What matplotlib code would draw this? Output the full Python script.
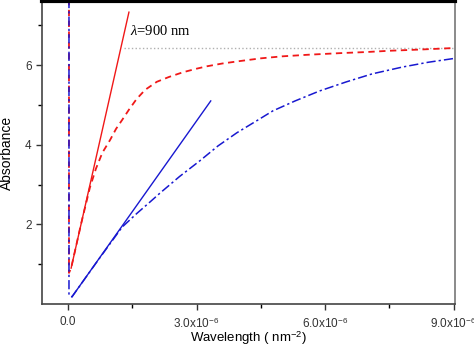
import matplotlib
matplotlib.use("Agg")
import matplotlib.pyplot as plt

# x values in units of 1e-6 nm^-2
red_fit_x = [0.07, 1.42]
red_fit_y = [0.9, 7.33]
red_data_x = [0.02, 0.02, 0.07, 0.3, 0.51, 0.65, 0.8, 0.98, 1.12, 1.26, 1.42, 1.6, 1.8,
              2.07, 2.35, 2.68, 3.0, 3.24, 3.6, 4.0, 4.5, 5.0, 5.6, 6.34, 7.0, 7.5, 8.2, 9.03]
red_data_y = [7.7, 0.78, 0.9, 2.0, 2.93, 3.4, 3.8, 4.12, 4.4, 4.62, 4.88, 5.15, 5.38,
              5.58, 5.7, 5.82, 5.91, 5.97, 6.04, 6.1, 6.17, 6.22, 6.26, 6.3, 6.33, 6.36, 6.39, 6.43]

blue_fit_x = [0.09, 3.33]
blue_fit_y = [0.18, 5.1]
blue_data_x = [0.02, 0.02, 0.09, 0.7, 1.26, 1.6, 1.91, 2.14, 2.6, 3.08, 3.5, 3.94, 4.4, 4.78,
               5.3, 5.87, 6.5, 7.1, 7.8, 8.4, 9.03]
blue_data_y = [7.7, 0.22, 0.18, 1.1, 1.93, 2.27, 2.56, 2.78, 3.2, 3.6, 3.97, 4.3, 4.6, 4.85,
               5.1, 5.35, 5.58, 5.78, 5.95, 6.07, 6.17]

sat_level = 6.43
sat_x = [1.3, 9.1]

xticks = [0, 3, 6, 9]
xticklabels = ['0.0', '3.0x10$^{-6}$', '6.0x10$^{-6}$', '9.0x10$^{-6}$']
yticks = [2, 4, 6]

plt.rcParams['font.family'] = ['Liberation Sans', 'DejaVu Sans']
plt.rcParams['mathtext.fontset'] = 'custom'
plt.rcParams['mathtext.rm'] = 'Liberation Sans'
plt.rcParams['mathtext.it'] = 'Liberation Serif:italic'

fig = plt.figure(figsize=(4.74, 3.51), dpi=100)
ax = fig.add_axes([0.0886, 0.134, 0.871, 0.862])

red = '#f01818'
blue = '#1818d0'
ax.plot(sat_x, [sat_level, sat_level], color='#b0b0b0', lw=1, ls=':')
ax.plot(red_fit_x, red_fit_y, color=red, lw=1)
ax.plot(red_data_x, red_data_y, color=red, lw=1.3, ls=(0, (3.5, 2.5)))
ax.plot(blue_fit_x, blue_fit_y, color=blue, lw=1)
ax.plot(blue_data_x, blue_data_y, color=blue, lw=1.1, ls=(0, (6, 2, 1.5, 2)))

ax.text(1.45, 6.75, r'$\mathit{\lambda}$=900 nm', family='Liberation Serif', fontsize=10.5)

ax.set_xlim(-0.61, 9.03)
ax.set_ylim(0, 7.6)
ax.set_xticks(xticks)
ax.set_xticklabels(xticklabels, fontsize=8.5)
ax.set_xticks([1.5, 4.5, 7.5], minor=True)
ax.set_yticks(yticks)
ax.set_yticklabels([str(v) for v in yticks], fontsize=8.5)
ax.set_yticks([1, 3, 5, 7], minor=True)
ax.tick_params(direction='out', length=4, width=1, colors='#333333')
ax.tick_params(which='minor', direction='out', length=3, width=1)
ax.tick_params(axis='x', pad=5)

for s in ['left', 'bottom']:
    ax.spines[s].set_color('#444444')
    ax.spines[s].set_linewidth(1.2)
ax.spines['right'].set_color('#777777')
ax.spines['right'].set_linewidth(1.2)
ax.spines['top'].set_color('black')
ax.spines['top'].set_linewidth(3)

ax.set_xlabel('Wavelength ( nm$^{-2}$)', fontsize=9.5, labelpad=-1)
ax.set_ylabel('Absorbance', fontsize=10, labelpad=8)

fig.savefig('out.png', dpi=100)
